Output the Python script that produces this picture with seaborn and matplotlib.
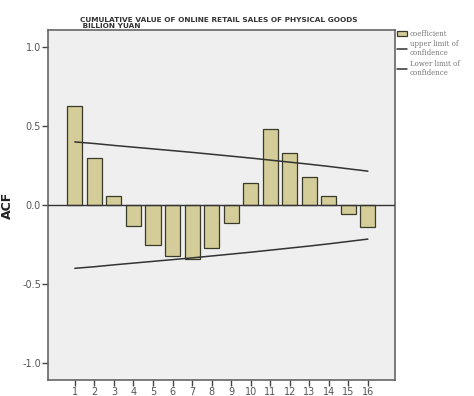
import matplotlib
matplotlib.use("Agg")
import matplotlib.pyplot as plt
import seaborn as sns
import pandas as pd
from matplotlib.patches import Patch
from matplotlib.lines import Line2D

lags = list(range(1, 17))
acf = [0.63, 0.30, 0.055, -0.13, -0.25, -0.32, -0.34, -0.27, -0.115, 0.14, 0.48, 0.33, 0.18, 0.055, -0.055, -0.14]
upper = [0.40, 0.39, 0.378, 0.367, 0.356, 0.345, 0.334, 0.322, 0.31, 0.298, 0.285, 0.272, 0.259, 0.245, 0.23, 0.215]
lower = [-v for v in upper]
title = "CUMULATIVE VALUE OF ONLINE RETAIL SALES OF PHYSICAL GOODS\n BILLION YUAN"

df = pd.DataFrame({"lag": lags, "acf": acf, "upper": upper, "lower": lower})

sns.set_style("ticks")
fig = plt.figure(figsize=(4.74, 3.96), dpi=100)
ax = fig.add_axes([0.101, 0.040, 0.732, 0.884])
ax.set_facecolor("#efefef")

bar_color = "#d4cd99"
sns.barplot(data=df, x="lag", y="acf", native_scale=True, width=0.77,
            color=bar_color, edgecolor="#3a3a2a", linewidth=0.9, saturation=1, ax=ax)
sns.lineplot(data=df, x="lag", y="upper", color="#333333", linewidth=1.1, ax=ax)
sns.lineplot(data=df, x="lag", y="lower", color="#333333", linewidth=1.1, ax=ax)
ax.axhline(0, color="#333333", linewidth=1.0, zorder=3)

ax.set_xlim(-0.38, 17.38)
ax.set_ylim(-1.108, 1.108)
ax.set_xticks(lags)
ax.set_xticklabels([str(l) for l in lags])
ax.set_yticks([-1.0, -0.5, 0.0, 0.5, 1.0])
ax.set_yticklabels(["-1.0", "-0.5", "0.0", "0.5", "1.0"])
ax.tick_params(axis="both", which="major", bottom=True, left=True, direction="out",
               length=4, width=1, color="#444444",
               labelsize=7, labelcolor="#555555", pad=1)
for s in ax.spines.values():
    s.set_visible(True)
    s.set_color("#666666")
    s.set_linewidth(1.2)
ax.set_xlabel("")
ax.set_ylabel("ACF", fontsize=9, fontweight="bold", color="#222222", labelpad=6)

fig.text(0.169, 0.928, title, fontsize=5.3, color="#333333", fontweight="bold",
         ha="left", va="bottom", linespacing=1.0)

handles = [Patch(facecolor=bar_color, edgecolor="#3a3a2a", linewidth=0.9),
           Line2D([0], [0], color="#333333", linewidth=1.1),
           Line2D([0], [0], color="#333333", linewidth=1.1)]
labels = ["coefficient", "upper limit of\nconfidence", "Lower limit of\nconfidence"]
leg = fig.legend(handles, labels, loc="upper left", bbox_to_anchor=(0.838, 0.925),
                 frameon=False, prop={"family": "DejaVu Serif", "size": 5},
                 handlelength=1.4, handletextpad=0.4, labelspacing=0.35,
                 borderaxespad=0, borderpad=0)
for t in leg.get_texts():
    t.set_color("#777777")

fig.savefig("out.png", dpi=100)
